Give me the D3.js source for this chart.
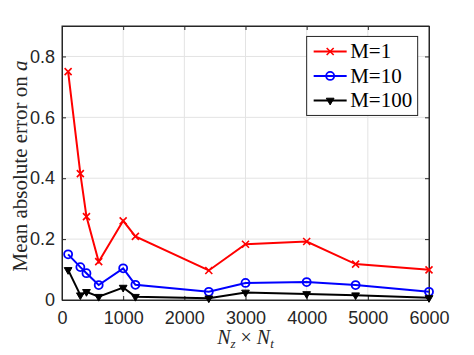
<!DOCTYPE html>
<html>
<head>
<meta charset="utf-8">
<script src="https://cdn.jsdelivr.net/npm/d3@7"></script>
<style>
  body { margin: 0; background: #fff; }
  .axis text { font-family: "Liberation Sans", Arial, sans-serif; font-size: 18px; fill: #262626; }
  .axis path, .axis line { stroke: #262626; }
</style>
</head>
<body>
<div id="chart"></div>
<script>
const nValues = [100, 300, 400, 600, 1000, 1200, 2400, 3000, 4000, 4800, 6000];
const errM1   = [0.750, 0.415, 0.274, 0.126, 0.260, 0.209, 0.097, 0.183, 0.192, 0.118, 0.099];
const errM10  = [0.150, 0.108, 0.088, 0.049, 0.104, 0.050, 0.027, 0.056, 0.059, 0.049, 0.027];
const errM100 = [0.099, 0.016, 0.027, 0.011, 0.041, 0.011, 0.006, 0.025, 0.020, 0.016, 0.007];
const seriesNames = ["M=1", "M=10", "M=100"];
const xTicks = [0, 1000, 2000, 3000, 4000, 5000, 6000];
const yTicks = [0, 0.2, 0.4, 0.6, 0.8];

const width = 474, height = 355;
const margin = { top: 26, right: 45, bottom: 55, left: 62 };
const innerWidth = width - margin.left - margin.right;
const innerHeight = height - margin.top - margin.bottom;

const series = [
  { name: seriesNames[0], values: errM1, color: "#ff0000", marker: "x" },
  { name: seriesNames[1], values: errM10, color: "#0000ff", marker: "o" },
  { name: seriesNames[2], values: errM100, color: "#000000", marker: "v" }
];

const svg = d3.select("#chart").append("svg")
  .attr("width", width)
  .attr("height", height);

const g = svg.append("g")
  .attr("transform", `translate(${margin.left},${margin.top})`);

const x = d3.scaleLinear().domain([0, 6000]).range([0, innerWidth]);
const y = d3.scaleLinear().domain([0, 0.9]).range([innerHeight, 0]);

// grid
g.append("g").selectAll("line")
  .data(xTicks.slice(1, -1))
  .join("line")
  .attr("x1", d => x(d)).attr("x2", d => x(d))
  .attr("y1", 0).attr("y2", innerHeight)
  .attr("stroke", "#e3e3e3");

g.append("g").selectAll("line")
  .data(yTicks.slice(1))
  .join("line")
  .attr("x1", 0).attr("x2", innerWidth)
  .attr("y1", d => y(d)).attr("y2", d => y(d))
  .attr("stroke", "#e3e3e3");

// axes
g.append("g")
  .attr("class", "axis")
  .attr("transform", `translate(0,${innerHeight})`)
  .call(d3.axisBottom(x).tickValues(xTicks).tickFormat(d3.format("d")).tickSizeInner(-4).tickSizeOuter(0).tickPadding(11));

g.append("g")
  .attr("class", "axis")
  .call(d3.axisLeft(y).tickValues(yTicks).tickFormat(d => d === 0 ? "0" : d3.format(".1f")(d)).tickSizeInner(-4).tickSizeOuter(0).tickPadding(7));

g.append("g")
  .attr("class", "axis")
  .attr("transform", `translate(${innerWidth},0)`)
  .call(d3.axisRight(y).tickValues(yTicks).tickSizeInner(-4).tickSizeOuter(0))
  .call(a => a.selectAll("text").remove());

g.append("g")
  .attr("class", "axis")
  .call(d3.axisTop(x).tickValues(xTicks).tickSizeInner(-4).tickSizeOuter(0))
  .call(a => a.selectAll("text").remove());

g.append("rect")
  .attr("width", innerWidth).attr("height", innerHeight)
  .attr("fill", "none").attr("stroke", "#262626");

// lines
const line = d3.line()
  .x((d, i) => x(nValues[i]))
  .y(d => y(d));

function drawMarker(sel, type, color) {
  if (type === "x") {
    sel.append("path")
      .attr("d", "M-3.5,-3.5L3.5,3.5M-3.5,3.5L3.5,-3.5")
      .attr("stroke", color).attr("stroke-width", 1.6).attr("fill", "none");
  } else if (type === "o") {
    sel.append("circle")
      .attr("r", 4)
      .attr("stroke", color).attr("stroke-width", 1.8).attr("fill", "none");
  } else {
    sel.append("path")
      .attr("d", d3.symbol(d3.symbolTriangle, 26)())
      .attr("transform", "rotate(180)")
      .attr("fill", color).attr("stroke", color).attr("stroke-width", 1);
  }
}

series.forEach(s => {
  g.append("path")
    .datum(s.values)
    .attr("fill", "none")
    .attr("stroke", s.color)
    .attr("stroke-width", 2)
    .attr("d", line);

  g.append("g").selectAll("g")
    .data(s.values)
    .join("g")
    .attr("transform", (d, i) => `translate(${x(nValues[i])},${y(d)})`)
    .each(function () { drawMarker(d3.select(this), s.marker, s.color); });
});

// legend
const legend = g.append("g")
  .attr("transform", `translate(${x(4000)},${y(0.8) - 20})`);

legend.append("rect")
  .attr("width", 111).attr("height", 79)
  .attr("fill", "#fff").attr("stroke", "#262626").attr("stroke-width", 1);

series.forEach((s, i) => {
  const row = legend.append("g").attr("transform", `translate(0,${15 + i * 24.5})`);
  row.append("line")
    .attr("x1", 7).attr("x2", 40)
    .attr("stroke", s.color).attr("stroke-width", 2);
  const m = row.append("g").attr("transform", "translate(23.5,0)");
  drawMarker(m, s.marker, s.color);
  row.append("text")
    .attr("x", 43.5).attr("y", 7)
    .attr("font-family", "'Liberation Serif', 'DejaVu Serif', serif")
    .attr("font-size", 21)
    .attr("fill", "#000")
    .text(s.name);
});

// axis labels
svg.append("text")
  .attr("transform", `translate(27,${margin.top + innerHeight / 2 + 3}) rotate(-90)`)
  .attr("text-anchor", "middle")
  .attr("font-family", "'Liberation Serif', 'DejaVu Serif', serif")
  .attr("font-size", 21)
  .attr("fill", "#262626")
  .call(t => {
    t.append("tspan").text("Mean absolute error on ");
    t.append("tspan").attr("font-style", "italic").text("a");
  });

const xl = svg.append("text")
  .attr("x", margin.left + innerWidth / 2)
  .attr("y", 344)
  .attr("text-anchor", "middle")
  .attr("font-family", "'Liberation Serif', 'DejaVu Serif', serif")
  .attr("font-size", 20)
  .attr("fill", "#262626");
xl.append("tspan").attr("font-style", "italic").text("N");
xl.append("tspan").attr("font-style", "italic").attr("font-size", 13).attr("dy", 4).text("z");
xl.append("tspan").attr("dy", -4).text(" × ");
xl.append("tspan").attr("font-style", "italic").text("N");
xl.append("tspan").attr("font-style", "italic").attr("font-size", 13).attr("dy", 4).text("t");
</script>
</body>
</html>
